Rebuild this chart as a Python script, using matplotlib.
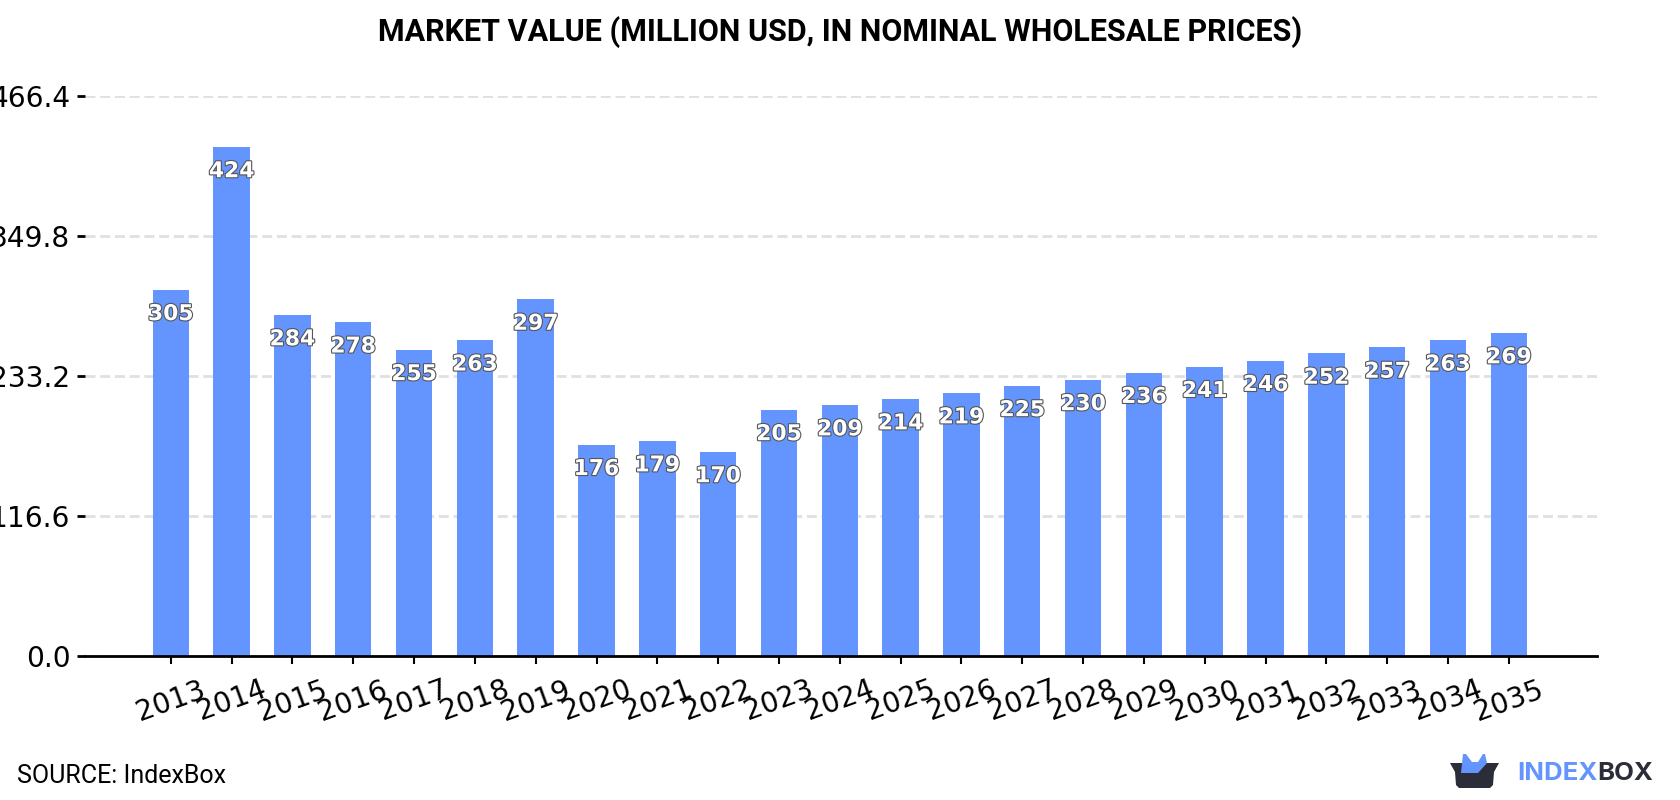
import matplotlib
matplotlib.use("Agg")
import matplotlib.patheffects as path_effects
import matplotlib.pyplot as plt
from matplotlib.patches import Polygon

years = [str(y) for y in range(2013, 2036)]
values = [305, 424, 284, 278, 255, 263, 297, 176, 179, 170, 205, 209, 214, 219,
          225, 230, 236, 241, 246, 252, 257, 263, 269]
y_ticks = [0.0, 116.6, 233.2, 349.8, 466.4]

BAR_COLOR = "#6495ff"
DARK = "#2b2d38"
WIDTH, HEIGHT = 1680, 800

fig = plt.figure(figsize=(WIDTH / 100, HEIGHT / 100), dpi=100)
ax = fig.add_axes([85 / WIDTH, 1 - 656 / HEIGHT, (1597 - 85) / WIDTH, (656 - 96) / HEIGHT])

positions = list(range(len(years)))
ax.bar(positions, values, width=0.6, color=BAR_COLOR, zorder=2)
ax.set_xlim(-1.41, 23.45)
ax.set_ylim(0, y_ticks[-1])

ax.set_yticks(y_ticks)
ax.set_yticklabels([f"{t:.1f}" for t in y_ticks], fontsize=20.2, color="black")
ax.set_xticks(positions)
ax.set_xticklabels(years, fontsize=20.2, rotation=20, color="black")
ax.tick_params(axis="y", length=6, width=2, pad=4.5)
ax.tick_params(axis="x", length=6, width=1.5, pad=8)

ax.grid(axis="y", color="#e0e0e0", linewidth=2, linestyle=(0, (3.6, 1.7)), zorder=1)
ax.set_axisbelow(True)
for side in ("top", "right", "left"):
    ax.spines[side].set_visible(False)
ax.spines["bottom"].set_linewidth(2)

# value labels sit just inside the top of each bar
outline = [path_effects.withStroke(linewidth=1.6, foreground="#555555")]
for x, v in zip(positions, values):
    ax.annotate(str(v), (x, v), xytext=(0, -17.5), textcoords="offset points",
                ha="center", va="center", fontsize=15.7, fontweight="bold",
                color="white", path_effects=outline, zorder=3, clip_on=False)

fig.text(840 / WIDTH, 1 - 32 / HEIGHT, "MARKET VALUE (MILLION USD, IN NOMINAL WHOLESALE PRICES)",
         family="Roboto", fontweight="bold", fontsize=22, ha="center", va="center", color="black")
fig.text(17 / WIDTH, 1 - 776 / HEIGHT, "SOURCE: IndexBox", family="Roboto", fontsize=18,
         ha="left", va="center", color="black")

# logo: box with blue contents, then the wordmark
logo_box = [(1450, 763), (1499, 763), (1494, 772), (1493, 785), (1490, 788), (1459, 788),
            (1456, 785), (1455, 772)]
logo_blue = [(1461, 773), (1463, 754), (1466, 754), (1472, 762), (1478, 762), (1483, 754),
             (1485, 754), (1487, 763), (1478, 773)]


def to_fig(points):
    return [(px / WIDTH, 1 - py / HEIGHT) for px, py in points]


fig.add_artist(Polygon(to_fig(logo_box), closed=True, facecolor=DARK, edgecolor="none"))
fig.add_artist(Polygon(to_fig(logo_blue), closed=True, facecolor=BAR_COLOR, edgecolor="none"))
fig.text(1517 / WIDTH, 1 - 774 / HEIGHT, "INDEX", family="Inter", fontweight="bold",
         fontsize=18.6, color=BAR_COLOR, ha="left", va="center")
fig.text(1597 / WIDTH, 1 - 774 / HEIGHT, "BOX", family="Inter", fontweight="bold",
         fontsize=18.6, color=DARK, ha="left", va="center")

fig.savefig("out.png", dpi=100, facecolor="white")
